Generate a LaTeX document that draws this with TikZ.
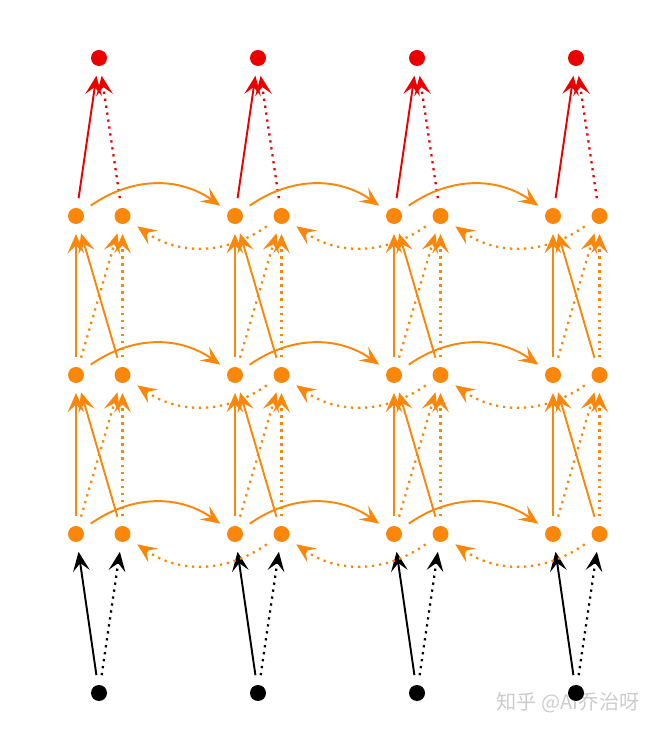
\documentclass[tikz,border=0pt]{standalone}
\usepackage{fontspec}
\newfontfamily\cjk{Noto Sans CJK SC}
\usetikzlibrary{arrows.meta}
\definecolor{rnnorange}{RGB}{250,135,10}
\definecolor{rnnred}{RGB}{235,0,0}

\begin{document}
\begin{tikzpicture}[>={Stealth[length=11pt, width=9.5pt, inset=4.5pt]}, line width=1.1pt]
    \tikzstyle{n}=[circle, inner sep=0pt, minimum size=0.32cm, outer sep=0.2cm]
    \tikzstyle{dots}=[line width=1.3pt, dash pattern=on 1.3pt off 2.7pt]
    \useasboundingbox (0,0) rectangle (13.12,14.64);

    \node[text=gray!40, font=\cjk\fontsize{11.5}{12}\selectfont] (wm) at (11.36, 0.58) {知乎 @AI乔治呀};

    % inputs, outputs and the three layers of forward/backward cells
    \foreach \t in {1,...,4} {
        \node[n, fill=black] (x\t) at (3.18*\t-1.2, 0.78) {};
        \node[n, fill=rnnred] (y\t) at (3.18*\t-1.2, 13.48) {};
        \foreach \l in {1,2,3} {
            \node[n, fill=rnnorange] (f\l\t) at (3.18*\t-1.66, 0.78+3.18*\l) {};
            \node[n, fill=rnnorange] (b\l\t) at (3.18*\t-0.73, 0.78+3.18*\l) {};
        }
    }

    \foreach \t in {1,...,4} {
        \draw[->] (x\t) -- (f1\t);
        \draw[->, dots] (x\t) -- (b1\t);
        \draw[->, rnnred] (f3\t) -- (y\t);
        \draw[->, rnnred, dots] (b3\t) -- (y\t);
    }

    \begin{scope}[rnnorange]
        \foreach \l/\k in {1/2, 2/3} {
            \foreach \t in {1,...,4} {
                \draw[->] (f\l\t) -- (f\k\t);
                \draw[->] (b\l\t) -- (f\k\t);
                \draw[->, dots] (f\l\t) -- (b\k\t);
                \draw[->, dots] (b\l\t) -- (b\k\t);
            }
        }
        \foreach \l in {1,2,3} {
            \foreach \t/\s in {1/2, 2/3, 3/4} {
                \draw[->] (f\l\t) to[bend left=35] (f\l\s);
                \draw[->, dots] (b\l\s) to[bend left=35] (b\l\t);
            }
        }
    \end{scope}
\end{tikzpicture}
\end{document}
